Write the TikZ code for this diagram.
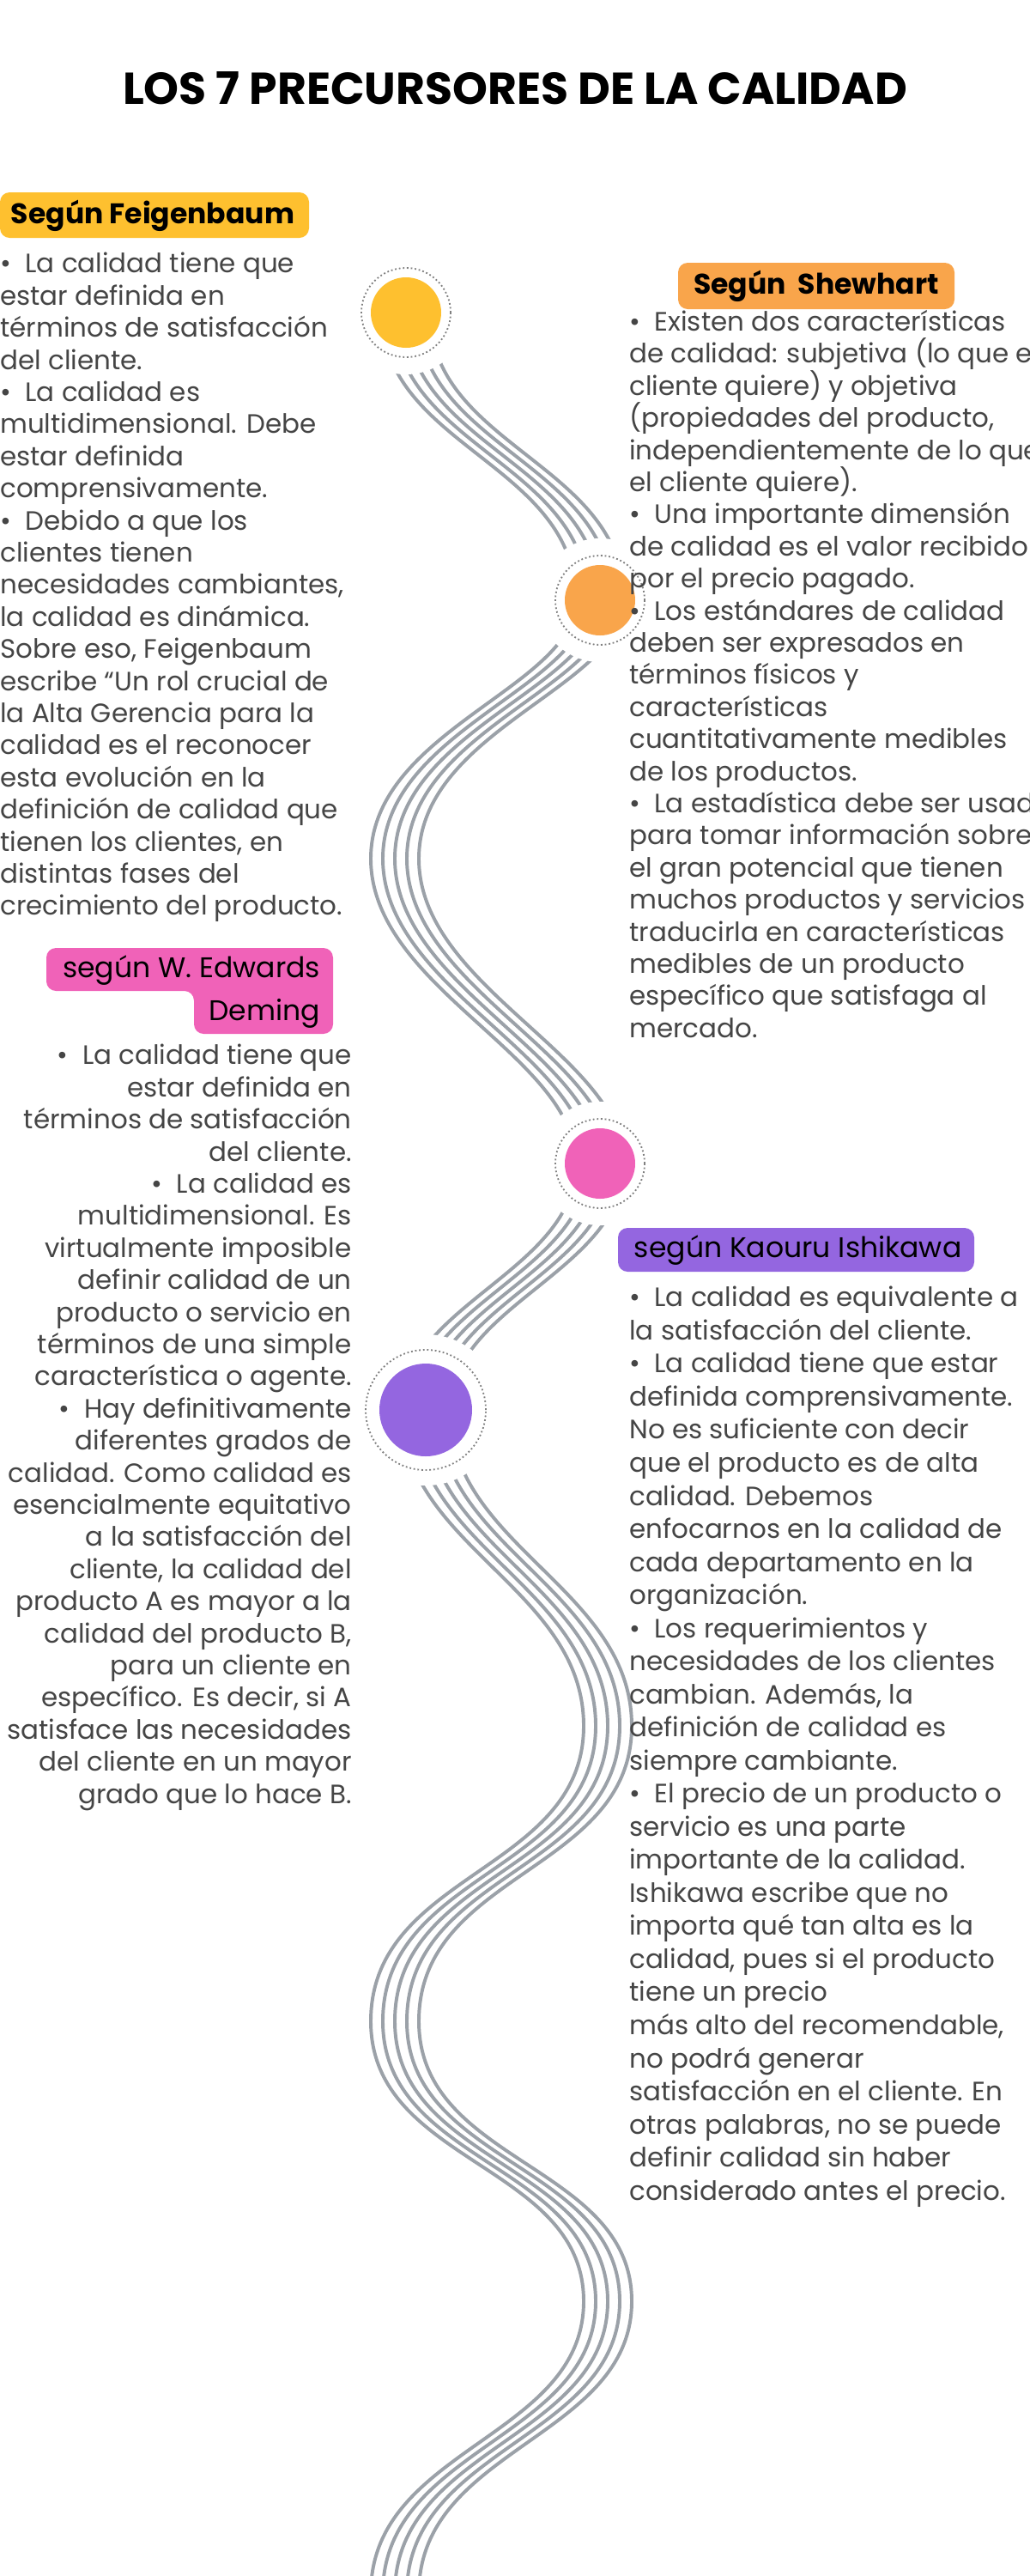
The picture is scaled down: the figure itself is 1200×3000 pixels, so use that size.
\documentclass[tikz,border=0pt]{standalone}
\usepackage{fontspec}
\setmainfont{Poppins}
\definecolor{txt}{HTML}{454545}
\definecolor{strand}{HTML}{9BA1A8}
\definecolor{cyel}{HTML}{FEC02F}
\definecolor{cora}{HTML}{F9A54B}
\definecolor{cpink}{HTML}{F062B8}
\definecolor{cpur}{HTML}{9466E0}
\begin{document}
\begin{tikzpicture}[x=0.025cm,y=-0.025cm,
  body/.style={inner sep=0pt,text=txt,font=\fontsize{22}{26.6}\selectfont},
  strands/.style={draw=strand,line width=2.8pt},
  ring/.style={draw=gray,dotted,line width=1.3pt,fill=white}]
\path[fill=white] (0,0) rectangle (1200,3000);
\useasboundingbox (0,0) rectangle (1200,3000);
\node[font=\fontsize{37}{42}\selectfont\bfseries] (title) at (600,103) {LOS 7 PRECURSORES DE LA CALIDAD};
% strands
\foreach \d in {-28,-14,0,14,28}{
  \draw[strands,xshift=\d*0.025cm] (473,364) .. controls (473,520) and (699,540) .. (699,699)
    .. controls (699,800) and (460,850) .. (460,1000) .. controls (460,1150) and (699,1230) .. (699,1355)
    .. controls (699,1480) and (496,1520) .. (496,1642)
    .. controls (496,1800) and (708,1850) .. (708,2010) .. controls (708,2180) and (460,2180) .. (460,2354)
    .. controls (460,2520) and (708,2520) .. (708,2680) .. controls (708,2840) and (460,2850) .. (460,3020);
}
% circles
\fill[white] (473,364) circle (72);
\fill[white] (699,699) circle (72);
\fill[white] (699,1355) circle (72);
\fill[white] (496,1642) circle (88);
\node[ring,circle,minimum size=104*0.025cm] (r1) at (473,364) {};
\node[circle,fill=cyel,minimum size=82*0.025cm] (c1) at (473,364) {};
\node[ring,circle,minimum size=104*0.025cm] (r2) at (699,699) {};
\node[circle,fill=cora,minimum size=82*0.025cm] (c2) at (699,699) {};
\node[ring,circle,minimum size=104*0.025cm] (r3) at (699,1355) {};
\node[circle,fill=cpink,minimum size=82*0.025cm] (c3) at (699,1355) {};
\node[ring,circle,minimum size=140*0.025cm] (r4) at (496,1642) {};
\node[circle,fill=cpur,minimum size=108*0.025cm] (c4) at (496,1642) {};
% labels
\fill[cyel,rounded corners=8pt] (0,224) rectangle (360,277);
\node[font=\fontsize{23.5}{26}\selectfont\bfseries,anchor=west] (l1) at (8,251) {Según Feigenbaum};
\fill[cora,rounded corners=8pt] (790,306) rectangle (1112,360);
\node[font=\fontsize{23.5}{26}\selectfont\bfseries] (l2) at (951,333) {Según\ \ Shewhart};
\fill[cpink,rounded corners=8pt] (54,1104) -- (388,1104) -- (388,1204) -- (226,1204) -- (226,1154) -- (54,1154) -- cycle;
\node[font=\fontsize{23.5}{26}\selectfont,anchor=east] (l3a) at (378,1130) {según W. Edwards};
\node[font=\fontsize{23.5}{26}\selectfont,anchor=east] (l3b) at (378,1180) {Deming};
\fill[cpur,rounded corners=8pt] (720,1430) rectangle (1135,1481);
\node[font=\fontsize{23.5}{26}\selectfont,anchor=west] (l4) at (734,1456) {según Kaouru Ishikawa};
% texts
\node[body,anchor=north west,align=left] (t1) at (0,294) {•\ \ La calidad tiene que\\estar definida en\\términos de satisfacción\\del cliente.\\•\ \ La calidad es\\multidimensional. Debe\\estar definida\\comprensivamente.\\•\ \ Debido a que los\\clientes tienen\\necesidades cambiantes,\\la calidad es dinámica.\\Sobre eso, Feigenbaum\\escribe “Un rol crucial de\\la Alta Gerencia para la\\calidad es el reconocer\\esta evolución en la\\definición de calidad que\\tienen los clientes, en\\distintas fases del\\crecimiento del producto.};
\node[body,anchor=north west,align=left] (t2) at (733,361) {•\ \ Existen dos características\\de calidad: subjetiva (lo que el\\cliente quiere) y objetiva\\(propiedades del producto,\\independientemente de lo que\\el cliente quiere).\\•\ \ Una importante dimensión\\de calidad es el valor recibido\\por el precio pagado.\\•\ \ Los estándares de calidad\\deben ser expresados en\\términos físicos y\\características\\cuantitativamente medibles\\de los productos.\\•\ \ La estadística debe ser usada\\para tomar información sobre\\el gran potencial que tienen\\muchos productos y servicios\\traducirla en características\\medibles de un producto\\específico que satisfaga al\\mercado.};
\node[body,anchor=north east,align=right] (t3) at (410,1216) {•\ \ La calidad tiene que\\estar definida en\\términos de satisfacción\\del cliente.\\•\ \ La calidad es\\multidimensional. Es\\virtualmente imposible\\definir calidad de un\\producto o servicio en\\términos de una simple\\característica o agente.\\•\ \ Hay definitivamente\\diferentes grados de\\calidad. Como calidad es\\esencialmente equitativo\\a la satisfacción del\\cliente, la calidad del\\producto A es mayor a la\\calidad del producto B,\\para un cliente en\\específico. Es decir, si A\\satisface las necesidades\\del cliente en un mayor\\grado que lo hace B.};
\node[body,anchor=north west,align=left,font=\fontsize{22}{27.4}\selectfont] (t4) at (733,1498) {•\ \ La calidad es equivalente a\\la satisfacción del cliente.\\•\ \ La calidad tiene que estar\\definida comprensivamente.\\No es suficiente con decir\\que el producto es de alta\\calidad. Debemos\\enfocarnos en la calidad de\\cada departamento en la\\organización.\\•\ \ Los requerimientos y\\necesidades de los clientes\\cambian. Además, la\\definición de calidad es\\siempre cambiante.\\•\ \ El precio de un producto o\\servicio es una parte\\importante de la calidad.\\Ishikawa escribe que no\\importa qué tan alta es la\\calidad, pues si el producto\\tiene un precio\\más alto del recomendable,\\no podrá generar\\satisfacción en el cliente. En\\otras palabras, no se puede\\definir calidad sin haber\\considerado antes el precio.};
\end{tikzpicture}
\end{document}
